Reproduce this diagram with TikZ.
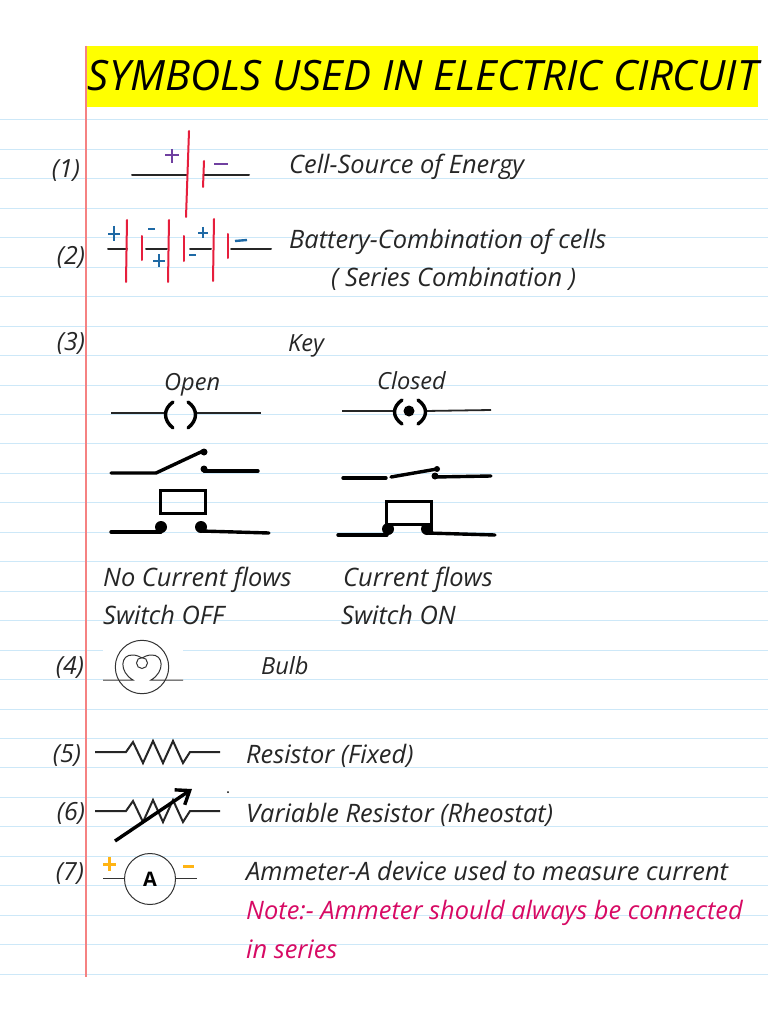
\documentclass[tikz,border=0pt]{standalone}
\usepackage{fontspec}
\setmainfont{Open Sans}
\usetikzlibrary{arrows.meta}
\definecolor{vonalkek}{RGB}{205,232,248}
\definecolor{margopiros}{RGB}{245,130,130}
\definecolor{sargacsik}{RGB}{255,255,0}
\definecolor{cellapiros}{RGB}{230,30,60}
\definecolor{lila}{RGB}{112,64,160}
\definecolor{kek}{RGB}{30,105,165}
\definecolor{narancs}{RGB}{255,180,20}
\definecolor{megjegyzes}{RGB}{215,10,100}
\tikzset{
felirat/.style={anchor=base west,inner sep=0pt,font=\fontsize{25.4}{26}\selectfont\itshape,text=black!85},
rovid/.style={anchor=base west,inner sep=0pt,font=\fontsize{23.6}{24}\selectfont\itshape,text=black!85},
sorszam/.style={anchor=base,inner sep=0pt,font=\fontsize{25}{25}\selectfont\itshape,text=black!85},
vezetek/.style={line width=2pt,black!85,line cap=round},
vastag/.style={line width=3.4pt,black,line cap=round},
lemez/.style={line width=2pt,cellapiros,line cap=round},
}
\newcommand{\ellenallas}[1]{
\draw[line width=2pt,black!85] (95,#1)--(126,#1)--(133,#1-10)--(143,#1+11)--(153,#1-11)--(163,#1+11)--(173,#1-11)--(183,#1+11)--(190,#1)--(220,#1);
}
\begin{document}
\begin{tikzpicture}[x=1pt,y=-1pt]
\useasboundingbox (0,0) rectangle (768,1024);
\fill[white] (0,0) rectangle (768,1024);

\foreach \i in {0,...,29}{
\pgfmathsetmacro{\sorY}{120+29.45*\i}
\draw[vonalkek,line width=1pt] (0,\sorY)--(768,\sorY);
}
\fill[white] (103,640) rectangle (183,700);
\fill[sargacsik] (86,46) rectangle (758,107);
\draw[margopiros,line width=1.2pt] (86,46)--(86,977);

\node[anchor=base,inner sep=0pt,font=\fontsize{41.8}{42}\selectfont\itshape] (cim) at (423,91){SYMBOLS USED IN ELECTRIC CIRCUIT};

%cell
\node[sorszam] (egy) at (66,178){(1)};
\draw[vezetek] (132,175)--(187,175);
\draw[vezetek] (204,175)--(249,175);
\draw[lemez] (189,131)--(186,217);
\draw[lemez] (204,161)--(203,187);
\draw[lila,line width=2.4pt] (172,149)--(172,163) (165,155)--(179,155);
\draw[lila,line width=2.4pt] (214,164)--(228,164);
\node[felirat] (cella) at (289,174){Cell-Source of Energy};

%battery
\node[sorszam] (ketto) at (71,264){(2)};
\draw[vezetek] (108,249)--(127,249);
\draw[vezetek] (146,249)--(167,249);
\draw[vezetek] (190,249)--(211,249);
\draw[vezetek] (231,249)--(271,249);
\draw[lemez] (127,220)--(126,282);
\draw[lemez] (142,236)--(142,260);
\draw[lemez] (169,220)--(168,282);
\draw[lemez] (184,236)--(184,261);
\draw[lemez] (214,219)--(213,281);
\draw[lemez] (228,234)--(228,258);
\draw[kek,line width=2.4pt] (114,226)--(114,241) (108,234)--(120,234);
\draw[kek,line width=2.4pt] (148,229)--(155,229);
\draw[kek,line width=2.4pt] (159,254)--(159,267) (153,261)--(165,261);
\draw[kek,line width=2.4pt] (203,227)--(203,238) (198,233)--(208,233);
\draw[kek,line width=2.4pt] (189,255)--(196,255);
\draw[kek,line width=2.4pt] (235,241)--(247,240);
\node[felirat] (telep) at (289,248){Battery-Combination of cells};
\node[felirat] (soros) at (331,286){( Series Combination )};

%key
\node[sorszam] (harom) at (71,350){(3)};
\node[rovid] (kulcs) at (288,351){Key};
\node[rovid] (nyitott) at (164,390){Open};
\node[rovid] (zart) at (377,389){Closed};

\draw[line width=1.8pt,black!85] (111,413)--(165,413);
\draw[line width=1.8pt,black!85] (195,413)--(261,413);
\draw[vastag] (173,402) .. controls (163,409) and (163,420) .. (173,428);
\draw[vastag] (188,402) .. controls (198,409) and (198,420) .. (188,428);

\draw[line width=1.8pt,black!85] (342,411)--(396,411);
\draw[line width=1.8pt,black!85] (425,411)--(491,410);
\draw[vastag] (402,400) .. controls (392,407) and (392,417) .. (402,424);
\draw[vastag] (418,400) .. controls (428,407) and (428,417) .. (418,424);
\fill[black] (409,411) circle (5.5);

%open switches
\draw[vastag] (111,473)--(156,473)--(203,451);
\fill[black] (204,452) circle (3.5);
\fill[black] (204,469) circle (3.5);
\draw[vastag] (204,471)--(258,471);
\draw[black,line width=3pt] (160,490) rectangle (205,513);
\fill[black] (161,527) circle (6);
\fill[black] (201,527) circle (6);
\draw[vastag] (111,532)--(161,532);
\draw[vastag] (201,531)--(269,533);

%closed switches
\draw[vastag] (343,478)--(386,478);
\draw[vastag] (391,477)--(437,469);
\fill[black] (437,469) circle (3);
\fill[black] (435,476) circle (3.5);
\draw[vastag] (435,477)--(491,476);
\draw[black,line width=3pt] (386,534)--(386,501)--(431,501)--(431,534);
\draw[black,line width=3pt] (386,524)--(431,524);
\fill[black] (388,529) circle (6);
\fill[black] (427,529) circle (6);
\draw[vastag] (338,535)--(387,535);
\draw[vastag] (427,533)--(495,535);

\node[felirat] (nincs) at (103,586){No Current flows};
\node[felirat] (folyik) at (343,586){Current flows};
\node[felirat] (ki) at (103,624){Switch OFF};
\node[felirat] (be) at (341,624){Switch ON};

%bulb
\node[sorszam] (negy) at (70,674){(4)};
\draw[black!80,line width=1pt] (142,667) circle (26.7);
\draw[black!80,line width=1pt] (103,680)--(133,680) .. controls (119,672) and (120,654) .. (133,655) .. controls (137,655) and (140,657) .. (142,658) .. controls (144,657) and (147,655) .. (151,655) .. controls (164,654) and (165,672) .. (151,680)--(183,680);
\draw[black!80,line width=1pt] (142,663) circle (5.5);
\node[rovid] (izzo) at (261,674){Bulb};

%resistors
\node[sorszam] (ot) at (67,762){(5)};
\ellenallas{752}
\node[felirat] (allando) at (246,763){Resistor (Fixed)};

\node[sorszam] (hat) at (71,820){(6)};
\ellenallas{811}
\draw[line width=3.4pt,black,-{Straight Barb[length=12pt,width=18pt]}] (115,841)--(192,789);
\node[felirat] (valtozo) at (246,822){Variable Resistor (Rheostat)};
\fill[black] (228,792) circle (1);

%ammeter
\node[sorszam] (het) at (70,880){(7)};
\draw[black!80,line width=1pt] (103,878)--(124,878);
\draw[black!80,line width=1pt] (176,878)--(197,878);
\node[circle,draw=black!80,line width=1pt,minimum size=51pt,inner sep=0pt,font=\fontsize{20}{20}\selectfont\bfseries] (A) at (150,879){A};
\draw[narancs,line width=3pt] (109,857)--(109,871) (103,864)--(116,864);
\draw[narancs,line width=3pt] (183,866)--(194,866);
\node[felirat] (amper) at (246,880){Ammeter-A device used to measure current};
\node[felirat,text=megjegyzes] (megj) at (246,919){Note:- Ammeter should always be connected};
\node[felirat,text=megjegyzes] (sorba) at (246,958){in series};
\end{tikzpicture}
\end{document}
